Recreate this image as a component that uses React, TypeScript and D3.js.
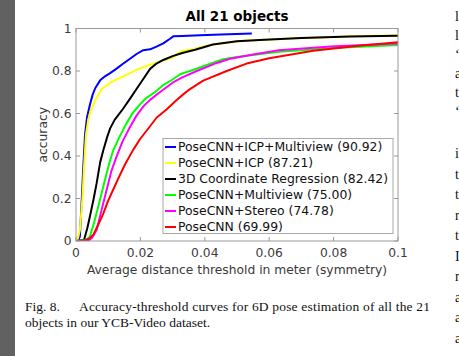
import React from "react";
import * as d3 from "d3";

// ---- data ----
const chartTitle = "All 21 objects";
const xTicks = [0, 0.02, 0.04, 0.06, 0.08, 0.1];
const yTicks = [0, 0.2, 0.4, 0.6, 0.8, 1];
const xLabel = "Average distance threshold in meter (symmetry)";
const yLabel = "accuracy";

const seriesNames = [
  "PoseCNN+ICP+Multiview (90.92)",
  "PoseCNN+ICP (87.21)",
  "3D Coordinate Regression (82.42)",
  "PoseCNN+Multiview (75.00)",
  "PoseCNN+Stereo (74.78)",
  "PoseCNN (69.99)",
];
const seriesColors = ["#0000ff", "#ffff00", "#000000", "#00ff00", "#ff00ff", "#ff0000"];

const icpMultiviewX = [0, 0.0005, 0.0012, 0.0018, 0.0023, 0.0028, 0.0034, 0.0043, 0.0052, 0.006, 0.0075, 0.009, 0.0106, 0.0125, 0.0147, 0.017, 0.0188, 0.0209, 0.023, 0.025, 0.0271, 0.0292, 0.0302, 0.033, 0.0385, 0.045, 0.0546];
const icpMultiviewY = [0, 0, 0.02, 0.2, 0.36, 0.5, 0.58, 0.64, 0.69, 0.72, 0.756, 0.775, 0.79, 0.81, 0.835, 0.86, 0.88, 0.898, 0.902, 0.915, 0.93, 0.952, 0.963, 0.965, 0.968, 0.972, 0.976];

const icpX = [0, 0.0004, 0.0012, 0.002, 0.0025, 0.0031, 0.0038, 0.0045, 0.0059, 0.008, 0.0106, 0.0147, 0.0188, 0.023, 0.0271, 0.03, 0.0313, 0.033, 0.0354, 0.0425, 0.05, 0.06, 0.07, 0.08, 0.09, 0.1];
const icpY = [0, 0, 0.05, 0.2, 0.35, 0.5, 0.57, 0.61, 0.66, 0.715, 0.745, 0.775, 0.805, 0.83, 0.85, 0.862, 0.88, 0.895, 0.9, 0.925, 0.94, 0.948, 0.955, 0.96, 0.965, 0.968];

const coordRegX = [0, 0.0025, 0.0035, 0.0043, 0.0055, 0.0064, 0.0075, 0.0085, 0.0097, 0.0106, 0.012, 0.0145, 0.0168, 0.019, 0.021, 0.023, 0.025, 0.0271, 0.03, 0.033, 0.037, 0.0425, 0.05, 0.057, 0.07, 0.085, 0.1];
const coordRegY = [0, 0.005, 0.06, 0.114, 0.2, 0.271, 0.37, 0.428, 0.49, 0.53, 0.57, 0.62, 0.67, 0.72, 0.765, 0.81, 0.835, 0.852, 0.87, 0.885, 0.9, 0.925, 0.94, 0.946, 0.955, 0.962, 0.966];

const multiviewX = [0, 0.0012, 0.003, 0.0043, 0.0055, 0.0069, 0.0082, 0.0095, 0.0106, 0.0116, 0.0135, 0.0157, 0.0175, 0.02, 0.022, 0.0245, 0.0271, 0.03, 0.0323, 0.0354, 0.04, 0.0457, 0.05, 0.063, 0.08, 0.1];
const multiviewY = [0, 0, 0.005, 0.02, 0.08, 0.161, 0.24, 0.318, 0.38, 0.428, 0.49, 0.554, 0.6, 0.645, 0.675, 0.7, 0.734, 0.76, 0.785, 0.8, 0.825, 0.855, 0.866, 0.89, 0.908, 0.922];

const stereoX = [0, 0.0018, 0.004, 0.005, 0.0064, 0.008, 0.0095, 0.011, 0.0126, 0.0145, 0.0168, 0.0188, 0.021, 0.023, 0.026, 0.03, 0.033, 0.0375, 0.0437, 0.0478, 0.055, 0.063, 0.079, 0.1];
const stereoY = [0, 0, 0.003, 0.015, 0.052, 0.15, 0.24, 0.33, 0.397, 0.47, 0.538, 0.59, 0.635, 0.664, 0.7, 0.745, 0.77, 0.8, 0.838, 0.858, 0.878, 0.898, 0.915, 0.93];

const poseCnnX = [0, 0.0023, 0.004, 0.0054, 0.007, 0.0085, 0.01, 0.0115, 0.013, 0.0152, 0.0178, 0.0199, 0.023, 0.025, 0.0282, 0.031, 0.0333, 0.0354, 0.0395, 0.0468, 0.053, 0.06, 0.0737, 0.087, 0.1];
const poseCnnY = [0, 0, 0.01, 0.03, 0.08, 0.13, 0.19, 0.24, 0.29, 0.36, 0.43, 0.48, 0.54, 0.58, 0.62, 0.66, 0.69, 0.715, 0.755, 0.8, 0.835, 0.86, 0.895, 0.918, 0.935];

const seriesX = [icpMultiviewX, icpX, coordRegX, multiviewX, stereoX, poseCnnX];
const seriesY = [icpMultiviewY, icpY, coordRegY, multiviewY, stereoY, poseCnnY];

const captionLine1Label = "Fig. 8.";
const captionLine1 = "Accuracy-threshold curves for 6D pose estimation of all the 21";
const captionLine2 = "objects in our YCB-Video dataset.";
const sideColumnPara1 = ["l", "l", "\u2018", "a", "t", "\u2018"];
const sideColumnPara2 = ["i", "t", "t", "r", "t", "I", "r", "a", "a", "a"];

// ---- layout ----
const W = 459;
const H = 356;
const plot = { left: 76, right: 398, top: 28.5, bottom: 241 };
const sans = "'DejaVu Sans', sans-serif";
const serif = "'Liberation Serif', 'Times New Roman', serif";

export default function App() {
  const x = d3.scaleLinear().domain([0, 0.1]).range([plot.left, plot.right]);
  const y = d3.scaleLinear().domain([0, 1]).range([plot.bottom, plot.top]);
  const line = d3
    .line<[number, number]>()
    .x((d) => x(d[0]))
    .y((d) => y(d[1]));
  const tickLen = 4;
  const axisColor = "#9a9a9a";
  const legend = { x: 163, y: 138.5, w: 230, h: 95, row0: 147, rowH: 16 };

  return (
    <svg
      width={W}
      height={H}
      viewBox={`0 0 ${W} ${H}`}
      style={{ position: "fixed", left: 0, top: 0, background: "#fff" }}
    >
      <rect x={0} y={0} width={W} height={H} fill="#fff" />
      <rect x={0} y={0} width={15} height={H} fill="#616161" />
      <defs>
        <clipPath id="plotclip">
          <rect x={plot.left} y={plot.top - 2} width={plot.right - plot.left} height={plot.bottom - plot.top + 2} />
        </clipPath>
      </defs>

      {/* title */}
      <text x={(plot.left + plot.right) / 2} y={21} textAnchor="middle" fontFamily={sans} fontWeight="bold" fontSize={13.5} fill="#000">
        {chartTitle}
      </text>

      {/* series */}
      <g clipPath="url(#plotclip)">
        {seriesX.map((xs, i) => (
          <path
            key={i}
            d={line(xs.map((v, j) => [v, seriesY[i][j]] as [number, number])) || ""}
            fill="none"
            stroke={seriesColors[i]}
            strokeWidth={2}
            strokeLinejoin="round"
          />
        ))}
      </g>

      {/* axes box */}
      <rect x={plot.left} y={plot.top} width={plot.right - plot.left} height={plot.bottom - plot.top} fill="none" stroke={axisColor} strokeWidth={1} />
      {xTicks.map((t) => (
        <g key={"xt" + t}>
          <line x1={x(t)} x2={x(t)} y1={plot.bottom} y2={plot.bottom - tickLen} stroke={axisColor} />
          <line x1={x(t)} x2={x(t)} y1={plot.top} y2={plot.top + tickLen} stroke={axisColor} />
          <text x={x(t)} y={257} textAnchor="middle" fontFamily={sans} fontSize={12.3} fill="#3a3a3a">
            {String(t)}
          </text>
        </g>
      ))}
      {yTicks.map((t) => (
        <g key={"yt" + t}>
          <line x1={plot.left} x2={plot.left + tickLen} y1={y(t)} y2={y(t)} stroke={axisColor} />
          <line x1={plot.right} x2={plot.right - tickLen} y1={y(t)} y2={y(t)} stroke={axisColor} />
          <text x={71.5} y={y(t) + 4.4} textAnchor="end" fontFamily={sans} fontSize={12.3} fill="#3a3a3a">
            {String(t)}
          </text>
        </g>
      ))}

      <text x={(plot.left + plot.right) / 2} y={274} textAnchor="middle" fontFamily={sans} fontSize={12.3} fill="#3a3a3a">
        {xLabel}
      </text>
      <text transform={`translate(47, ${(plot.top + plot.bottom) / 2}) rotate(-90)`} textAnchor="middle" fontFamily={sans} fontSize={12.3} fill="#3a3a3a">
        {yLabel}
      </text>

      {/* legend */}
      <rect x={legend.x} y={legend.y} width={legend.w} height={legend.h} fill="#fff" stroke="#a8a8a8" strokeWidth={1} />
      {seriesNames.map((name, i) => {
        const cy = legend.row0 + i * legend.rowH;
        return (
          <g key={name}>
            <line x1={legend.x + 2} x2={legend.x + 13} y1={cy} y2={cy} stroke={seriesColors[i]} strokeWidth={2} />
            <text x={legend.x + 15} y={cy + 4.4} fontFamily={sans} fontSize={12.4} fill="#111">
              {name}
            </text>
          </g>
        );
      })}

      {/* caption */}
      <text x={25} y={311} fontFamily={serif} fontSize={13.5} fill="#111">
        {captionLine1Label}
      </text>
      <text x={79} y={311} fontFamily={serif} fontSize={13.5} fill="#111" textLength={351} lengthAdjust="spacing">
        {captionLine1}
      </text>
      <text x={25} y={327} fontFamily={serif} fontSize={13.5} fill="#111">
        {captionLine2}
      </text>

      {/* neighbouring column fragments */}
      {sideColumnPara1.map((c, i) => (
        <text key={"p1" + i} x={455} y={21 + i * 19} fontFamily={serif} fontSize={14} fill="#111">
          {c}
        </text>
      ))}
      {sideColumnPara2.map((c, i) => (
        <text key={"p2" + i} x={455} y={158 + i * 20.5} fontFamily={serif} fontSize={14} fill="#111">
          {c}
        </text>
      ))}
    </svg>
  );
}
